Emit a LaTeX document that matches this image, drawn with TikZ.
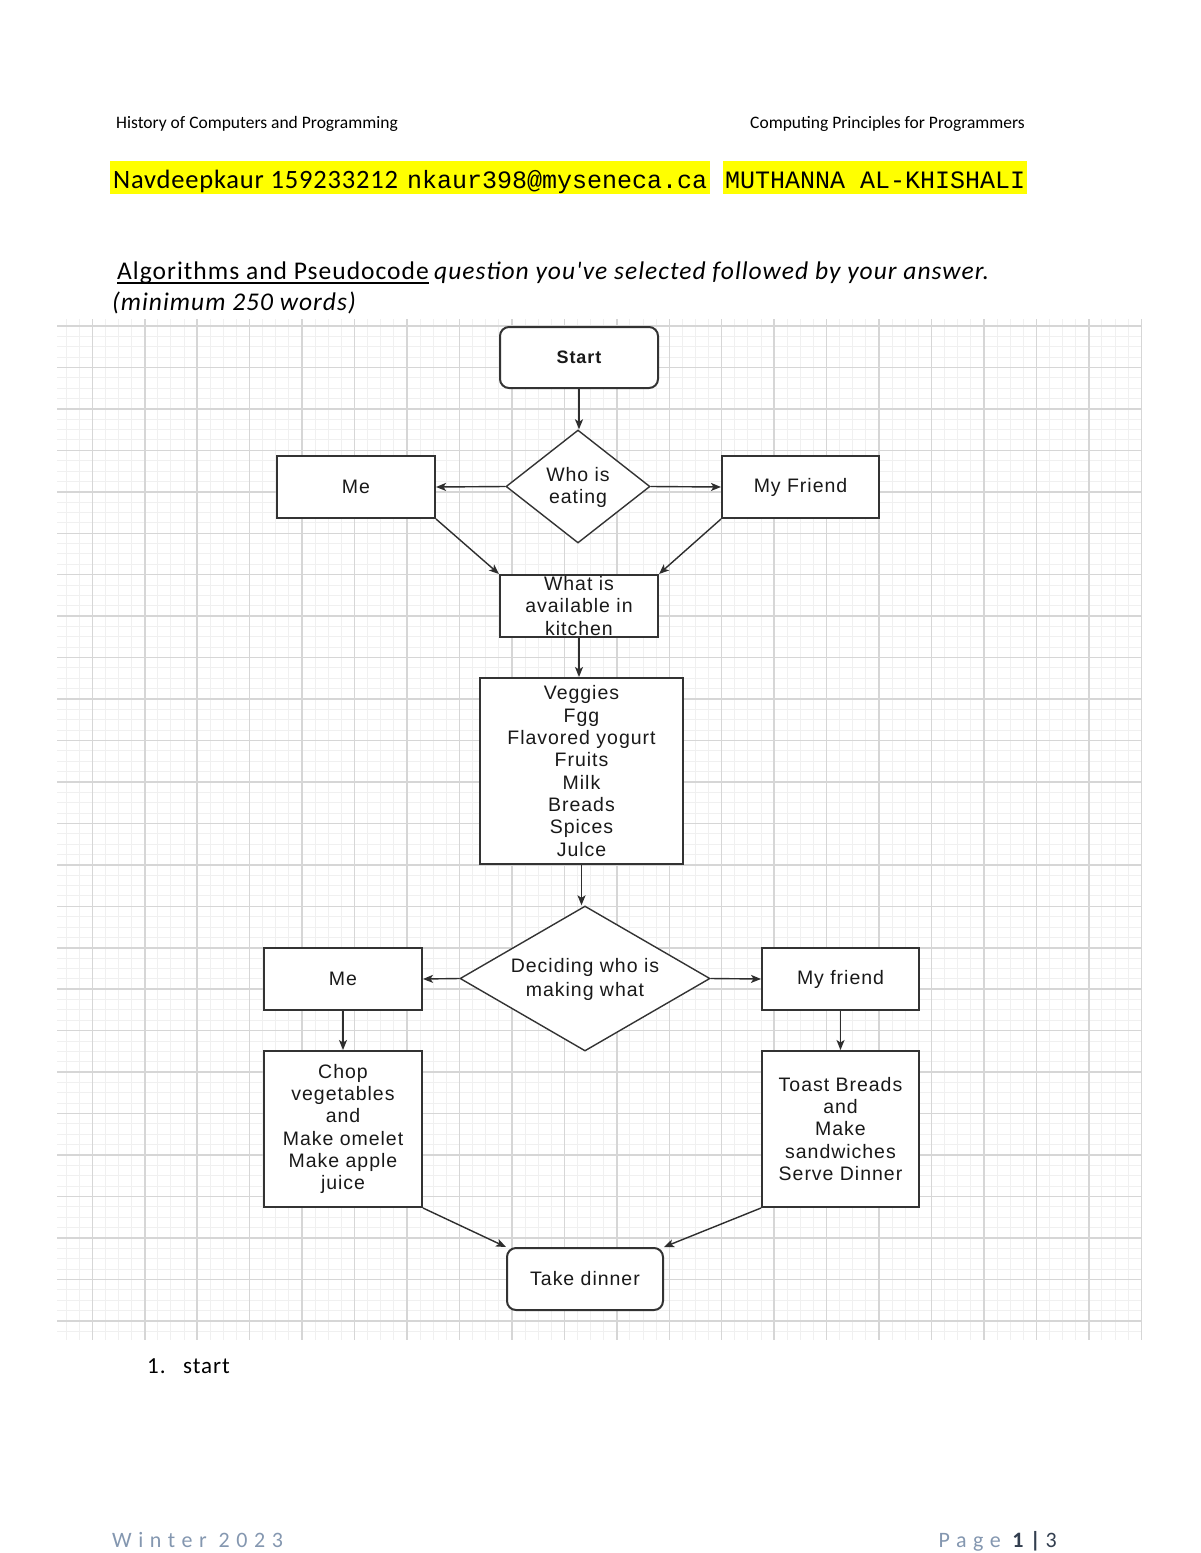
\documentclass[tikz,border=0pt]{standalone}
\usepackage{fontspec}
\setmainfont{Carlito}
\newfontfamily\dfont[LetterSpace=5]{Liberation Sans}
\newfontfamily\monof{Liberation Mono}
\newfontfamily\calsp[LetterSpace=3]{Carlito}
\newfontfamily\calmid[LetterSpace=4]{Carlito}
\newfontfamily\calfoot[LetterSpace=30]{Carlito}
\usetikzlibrary{arrows.meta,shapes.geometric}
\definecolor{gridmin}{HTML}{F0F0F0}
\definecolor{gridmaj}{HTML}{D6D6D6}
\definecolor{boxdraw}{HTML}{333333}
\definecolor{arrowc}{HTML}{2E2E2E}
\definecolor{footblue}{HTML}{8497B0}
\definecolor{footdark}{HTML}{323E4F}
\definecolor{hl}{HTML}{FFFF00}
\newcommand\dtext{\dfont\fontsize{19.5}{22.3}\selectfont}
\tikzset{
 gmin/.style={draw=gridmin, line width=1pt},
 gmaj/.style={draw=gridmaj, line width=1.5pt},
 box/.style={draw=boxdraw, line width=2pt, fill=white, inner sep=0pt, align=center, font=\dtext, text=black!90},
 rbox/.style={box, rounded corners=9pt},
 dia/.style={draw=boxdraw, line width=1.4pt, fill=white, diamond, inner sep=0pt},
 dlabel/.style={inner sep=0pt, align=center, font=\dtext, text=black!90},
 arr/.style={draw=arrowc, line width=1.4pt, -{Stealth[length=10pt,width=8pt,inset=2.5pt]}},
 txt/.style={inner sep=0pt, anchor=base west},
}
\begin{document}
\begin{tikzpicture}[x=1pt,y=-1pt]
\fill[white] (0,0) rectangle (1200,1553);
\useasboundingbox (0,0) rectangle (1200,1553);
% grid
\foreach \i in {-2,...,80} {
  \pgfmathsetmacro\xx{92.3+13.1125*\i}
  \draw[gmin] (\xx,319) -- (\xx,1340);
}
\foreach \j in {0,...,97} {
  \pgfmathsetmacro\yy{326+10.3625*\j}
  \draw[gmin] (57,\yy) -- (1142,\yy);
}
\foreach \i in {0,...,20} {
  \pgfmathsetmacro\xx{92.3+52.45*\i}
  \draw[gmaj] (\xx,319) -- (\xx,1340);
}
\foreach \j in {0,...,24} {
  \pgfmathsetmacro\yy{326+41.45*\j}
  \draw[gmaj] (57,\yy) -- (1142,\yy);
}
% header
\node[txt, font=\fontsize{17.5}{20}\selectfont] (hl) at (116,128) {History of Computers and Programming};
\node[inner sep=0pt, anchor=base east, font=\fontsize{17.5}{20}\selectfont] (hr) at (1025,128) {Computing Principles for Programmers};
\fill[hl] (110,161) rectangle (710,194);
\fill[hl] (723,161) rectangle (1027,194);
\node[txt, font=\calsp\fontsize{26.5}{30}\selectfont] (nm) at (113,188) {Navdeepkaur 159233212};
\node[txt, font=\monof\fontsize{25}{30}\selectfont] (em) at (407,188) {nkaur398@myseneca.ca};
\node[txt, font=\monof\fontsize{25}{30}\selectfont] (pr) at (725,188) {MUTHANNA AL-KHISHALI};
\node[txt, font=\calmid\fontsize{25.5}{30}\selectfont] (alg) at (117,279) {Algorithms and Pseudocode};
\draw[line width=1.5pt] ([yshift=-4pt]alg.base west) -- ([yshift=-4pt]alg.base east);
\node[txt, font=\calmid\itshape\fontsize{25.5}{30}\selectfont] (q1) at (434,279) {question you've selected followed by your answer.};
\node[txt, font=\calmid\itshape\fontsize{25.5}{30}\selectfont] (q2) at (112,310) {(minimum 250 words)};
% flowchart
\node[rbox, minimum width=158pt, minimum height=61pt, font=\dfont\bfseries\fontsize{18}{22}\selectfont] (start) at (579,357.5) {Start};
\node[dia, minimum width=144pt, minimum height=113pt] (who) at (578,486.5) {};
\node[dlabel] (whoT) at (578,487.5) {Who is\\eating};
\node[box, minimum width=158pt, minimum height=62pt] (me1) at (356,487) {Me};
\node[box, minimum width=157pt, minimum height=62pt] (fr1) at (800.5,487) {My Friend};
\node[box, minimum width=158pt, minimum height=62pt] (what) at (579,606) {What is\\available in\\kitchen};
\node[box, minimum width=203pt, minimum height=186pt] (veg) at (581.5,771) {Veggies\\Fgg\\Flavored yogurt\\Fruits\\Milk\\Breads\\Spices\\Julce};
\node[dia, minimum width=250pt, minimum height=145pt] (dec) at (585,978.5) {};
\node[dlabel, font=\dfont\fontsize{19.5}{24}\selectfont] (decT) at (585,979) {Deciding who is\\making what};
\node[box, minimum width=158pt, minimum height=62pt] (me2) at (343,979) {Me};
\node[box, minimum width=157pt, minimum height=62pt] (fr2) at (840.5,979) {My friend};
\node[box, minimum width=158pt, minimum height=156pt] (chop) at (343,1129) {Chop\\vegetables\\and\\Make omelet\\Make apple\\juice};
\node[box, minimum width=157pt, minimum height=156pt] (toast) at (840.5,1129) {Toast Breads\\and\\Make\\sandwiches\\Serve Dinner};
\node[rbox, minimum width=156pt, minimum height=62pt] (dinner) at (585,1279) {Take dinner};
% connectors
\draw[arr] (start.south) -- (start.south |- who.north);
\draw[arr] (who.west) -- (me1.east);
\draw[arr] (who.east) -- (fr1.west);
\draw[arr] (me1.south east) -- (what.north west);
\draw[arr] (fr1.south west) -- (what.north east);
\draw[arr] (what.south) -- (what.south |- veg.north);
\draw[arr] (veg.south) -- (veg.south |- dec.north);
\draw[arr] (dec.west) -- (me2.east);
\draw[arr] (dec.east) -- (fr2.west);
\draw[arr] (me2.south) -- (chop.north);
\draw[arr] (fr2.south) -- (toast.north);
\draw[arr] (chop.south east) -- (dinner.north west);
\draw[arr] (toast.south west) -- (dinner.north east);
% list item
\node[txt, font=\calmid\fontsize{23}{26}\selectfont] (n1) at (147,1373) {1.};
\node[txt, font=\calmid\fontsize{23}{26}\selectfont] (n1t) at (183,1373) {start};
% footer
\node[txt, font=\calfoot\fontsize{22}{26}\selectfont, text=footblue] (wi) at (112,1547) {Winter 2023};
\node[inner sep=0pt, anchor=base east, font=\calfoot\fontsize{22}{26}\selectfont] (pg) at (1057,1547) {\textcolor{footblue}{Page} \textcolor{footdark}{\bfseries 1|}\hspace{5pt}\textcolor{footdark}{3}};
\end{tikzpicture}
\end{document}
